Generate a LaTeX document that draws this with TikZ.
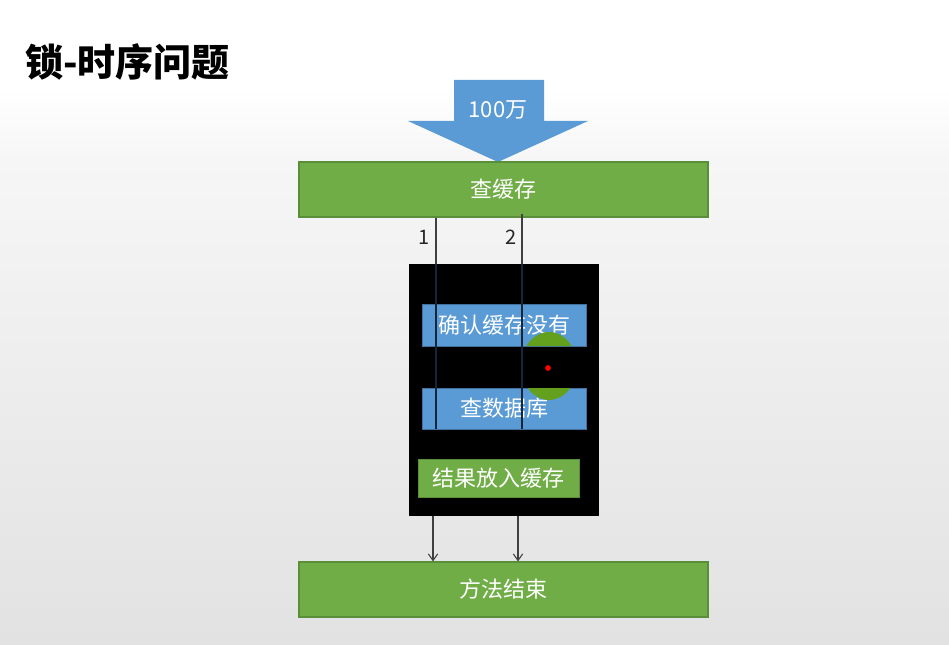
\documentclass[tikz,border=0pt]{standalone}
\usepackage{fontspec}
\setmainfont{Noto Sans CJK SC}
\usetikzlibrary{arrows.meta}
\definecolor{gfill}{HTML}{70AD47}
\definecolor{gline}{HTML}{5A8F3A}
\definecolor{bfill}{HTML}{5B9BD5}
\definecolor{bline}{HTML}{41719C}
\definecolor{hl}{RGB}{98,160,30}
\definecolor{conn}{HTML}{404040}
\definecolor{dark}{HTML}{15263A}
\tikzset{
  greenbox/.style={draw=gline, fill=gfill, text=white, line width=0.8pt, inner sep=0pt, font=\fontsize{16.5}{18}\selectfont},
  bluebox/.style={draw=bline, fill=bfill, text=white, line width=0.6pt, inner sep=0pt, font=\fontsize{16.5}{18}\selectfont},
  conline/.style={draw=conn, line width=0.8pt},
  innerline/.style={draw=dark, line width=0.8pt},
  numlabel/.style={text=black!85, inner sep=0pt, font=\fontsize{15}{16}\selectfont},
}
\begin{document}
\begin{tikzpicture}[x=0.75pt,y=-0.75pt]
\useasboundingbox (0,0) rectangle (949,645);
\fill[white] (0,0) rectangle (949,90);
\shade[top color=white, bottom color={rgb,255:red,246;green,246;blue,246}] (0,90) rectangle (949,160);
\shade[top color={rgb,255:red,246;green,246;blue,246}, bottom color={rgb,255:red,226;green,226;blue,226}] (0,160) rectangle (949,645);

% title
\node[anchor=west, inner sep=0pt, font=\fontsize{28.5}{30}\selectfont\bfseries] (title) at (25,62) {锁-时序问题};

% big arrow
\fill[bfill] (454,80) -- (544,80) -- (544,121) -- (588,121) -- (498,162) -- (408,121) -- (454,121) -- cycle;
\node[text=white, inner sep=0pt, font=\fontsize{16.5}{18}\selectfont] (mil) at (498,110) {100万};

% top box
\node[greenbox, minimum width=306.75pt, minimum height=41.25pt] (cache) at (503.5,189.5) {查缓存};

% black box
\node[fill=black, minimum width=142.5pt, minimum height=189pt, inner sep=0pt] (bb) at (503.5,390) {};

\coordinate (l1) at (436,0);
\coordinate (l2) at (522,0);
\coordinate (a1) at (433,0);
\coordinate (a2) at (518,0);

\draw[conline] (l1 |- cache.south) -- (l1 |- bb.north);
\draw[conline] (522,214) -- (l2 |- bb.north);
\node[numlabel] (n1) at (424,237) {1};
\node[numlabel] (n2) at (511,237) {2};

% blue boxes
\node[bluebox, minimum width=123pt, minimum height=31.5pt] (b1) at (504,325) {确认缓存没有};
\node[bluebox, minimum width=123pt, minimum height=30.75pt] (b2) at (504,408.5) {查数据库};

% highlight
\begin{scope}
\clip (523,304) rectangle (586,346) (523,388) rectangle (586,429);
\fill[hl] (549,366) ellipse [x radius=21pt, y radius=25.5pt];
\end{scope}
\fill[red] (548,368) circle [radius=2.2pt];

% lines through the box
\draw[innerline] (l1 |- bb.north) -- (l1 |- b2.south);
\draw[innerline] (l2 |- bb.north) -- (l2 |- b2.south);

% green inner box
\node[greenbox, line width=0.5pt, minimum width=120.75pt, minimum height=28.5pt] (g) at (498.5,478) {结果放入缓存};

% end box
\node[greenbox, minimum width=306.75pt, minimum height=41.25pt] (end) at (503.5,589.5) {方法结束};

\draw[conline, -{Straight Barb[length=5pt,width=7pt]}] (a1 |- bb.south) -- (a1 |- end.north);
\draw[conline, -{Straight Barb[length=5pt,width=7pt]}] (a2 |- bb.south) -- (a2 |- end.north);
\end{tikzpicture}
\end{document}
